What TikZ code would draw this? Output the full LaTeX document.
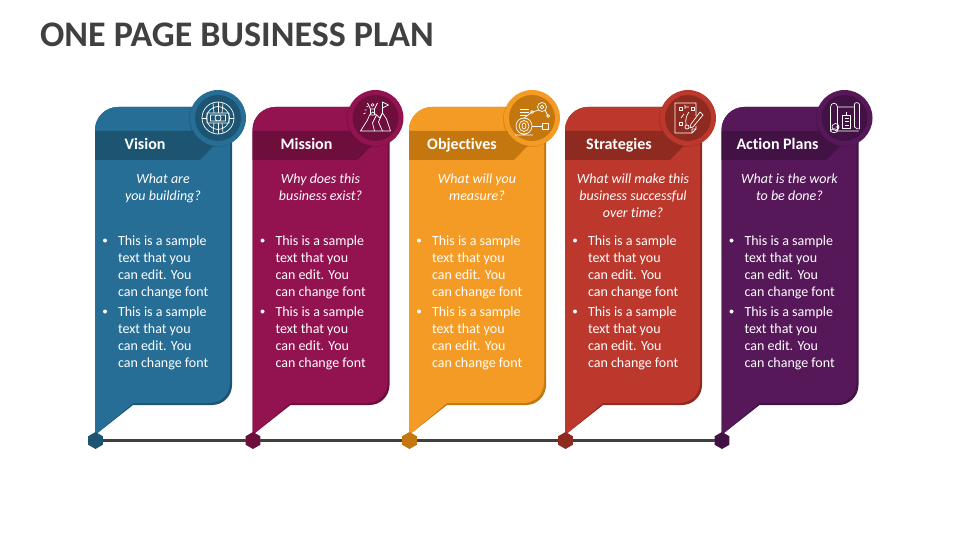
\documentclass[tikz,border=0pt]{standalone}
\usepackage{fontspec}
\setmainfont[Ligatures=NoCommon]{Carlito}
\usetikzlibrary{shapes.geometric}
\definecolor{titlegray}{HTML}{404040}
\definecolor{visionmain}{HTML}{276E96}
\definecolor{visiondark}{HTML}{1C5472}
\definecolor{missionmain}{HTML}{921350}
\definecolor{missiondark}{HTML}{6D0E3C}
\definecolor{objectmain}{HTML}{F49B25}
\definecolor{objectdark}{HTML}{C4770F}
\definecolor{stratmain}{HTML}{BC382C}
\definecolor{stratdark}{HTML}{8F2A20}
\definecolor{planmain}{HTML}{57185A}
\definecolor{plandark}{HTML}{421245}
\begin{document}
\begin{tikzpicture}[x=1pt,y=-1pt,inner sep=0pt,outer sep=0pt,
headtext/.style={text=white,anchor=base,font=\fontsize{16}{17}\selectfont\bfseries},
asktext/.style={text=white,align=center,anchor=north,font=\fontsize{14}{17}\selectfont\itshape},
bodytext/.style={text=white,align=left,anchor=north west,font=\fontsize{14}{17}\selectfont},
dotnode/.style={circle,fill=white,minimum size=4pt},
hexnode/.style={regular polygon,regular polygon sides=6,shape border rotate=30,minimum size=17pt},
icon/.style={draw=white,line width=0.7pt,line join=round},
iconvision/.pic={
\draw[icon] (0,0) circle (16) (0,0) circle (11.5);
\draw[icon] (-11,-5) rectangle (11,5) (0,0) circle (3) (-7.5,-3) rectangle (7.5,3);
\draw[icon] (0,-16) -- (0,-5) (0,5) -- (0,16) (-16,0) -- (-11,0) (11,0) -- (16,0);
\draw[icon] (-5,-15) -- (-4,-5) (5,-15) -- (4,-5) (-5,15) -- (-4,5) (5,15) -- (4,5);},
iconmission/.pic={
\draw[icon] (-15,13) -- (15,13) -- (11,1) -- (7,-5) -- (4,0) -- (1,-3) -- (-3,-6) -- (-6,-3) -- (-8,2) -- cycle;
\draw[icon] (-1,13) -- (-3,5) -- (1,-3) (7,13) -- (3,4) -- (7,-5);
\draw[icon] (-5,-9) rectangle (-1,-3) (-3,-13) circle (1.5) (-8,-15) -- (-5,-9) (2,-15) -- (-1,-9);
\draw[icon] (7,-5) -- (7,-16) -- (13,-13) -- (7,-10);
\draw[icon] (-11,-8) -- (-9,-8) (-12,-4) -- (-10,-5) (-9,-12) -- (-8,-11);},
iconobject/.pic={
\draw[icon] (-12,-9) -- (-3,-9) (-12,-6) -- (-3,-6) (-12,-3) -- (-5,-3);
\draw[icon] (10,-11) circle (4.5) (10,-11) circle (1.8) (0,-6) circle (1.5) (16,-2) circle (1.5);
\draw[icon] (-8,0) -- (0,-6) -- (7,-8) (13,-8) -- (16,-2);
\draw[icon] (-8,8) ellipse (8 and 8) (-8,8) ellipse (5 and 5.5) (-8,8) ellipse (2 and 3) (-17,17) -- (1,17);
\draw[icon] (0,8) -- (10,8) -- (10,11) -- (16,11) -- (16,5) -- (10,5) -- (10,8);},
iconstrat/.pic={
\draw[icon] (8,-2) -- (8,-15) -- (-13,-15) -- (-13,15) -- (4,15) -- (8,11) -- (8,8) (4,15) -- (4,11) -- (8,11);
\draw[icon] (-9,-11) rectangle (-6,-8) (3,-11) rectangle (6,-8) (-9,4) rectangle (-6,7);
\draw[icon] (-3,-11) -- (1,-11) (-3,-13) -- (-3,-9) (-1,9) circle (2);
\draw[icon] (-4,-4) -- (-7,0) (-2,7) .. controls (-3,0) and (-1,-3) .. (1,-6);
\draw[icon] (12,-6) -- (15,-3) -- (5,9) -- (2,10) -- (3,6) -- cycle;},
iconplan/.pic={
\draw[icon] (-14,-11) .. controls (-14,-16) and (-7,-16) .. (-7,-11) -- (-7,13) .. controls (-8,10) and (-13,10) .. (-14,13) -- cycle;
\draw[icon] (-14,13) .. controls (-13,15) and (-8,15) .. (-7,13) -- (14,13);
\draw[icon] (-7,-11) -- (10,-11) -- (10,-14) .. controls (10,-16) and (15,-16) .. (15,-13) -- (15,11) (10,-11) -- (10,9) .. controls (11,11) and (14,11) .. (15,11);
\draw[icon] (-2,-3) rectangle (6,10) (0,0) -- (4,0) (0,3.5) -- (4,3.5) (0,7) -- (4,7) (2,-6) -- (2,-3);
\draw[icon] (-9,9) circle (3.5) (-9,9) -- (-5.5,9);}]
\useasboundingbox (0,0) rectangle (960,540);
\draw (40,35) node[anchor=west,text=titlegray,font=\fontsize{36}{40}\selectfont\bfseries] (title) {ONE PAGE BUSINESS PLAN};
\foreach \n/\x/\colmain/\coldark/\headx/\head/\ask/\icn in {
1/95/visionmain/visiondark/50/Vision/{What are\\you building?}/iconvision,
2/252.5/missionmain/missiondark/54/Mission/{Why does this\\business exist?}/iconmission,
3/409/objectmain/objectdark/53/Objectives/{What will you\\measure?}/iconobject,
4/565/stratmain/stratdark/54/Strategies/{What will make this\\business successful\\over time?}/iconstrat,
5/721.5/planmain/plandark/56/Action Plans/{What is the work\\to be done?}/iconplan}
{
\begin{scope}[shift={(\x,0)}]
\fill[\coldark] (0,130) arc[start angle=180,end angle=270,radius=23] -- (137,107) -- (137,385) arc[start angle=0,end angle=90,radius=20] -- (38,405) -- (0,435) -- cycle;
\fill[\colmain] (0,130) arc[start angle=180,end angle=270,radius=23] -- (135,107) -- (135,383) arc[start angle=0,end angle=90,radius=20] -- (38,403) -- (0,435) -- cycle;
\fill[\coldark] (0,131) -- (133,131) -- (105,160) -- (0,160) -- cycle;
\draw (122,119) node[circle,fill=\coldark,fill opacity=.5,minimum size=56pt] (shade\n) {};
\draw (123,118) node[circle,fill=\colmain,minimum size=56pt] (ring\n) {};
\draw (123,118) node[circle,fill=\coldark,minimum size=46pt] (disc\n) {};
\pic at (123,118) {\icn};
\draw (\headx,150) node[headtext] (head\n) {\head};
\draw (68,174) node[asktext] (ask\n) {\ask};
\draw (10,240.5) node[dotnode] (dota\n) {};
\draw (10,311.5) node[dotnode] (dotb\n) {};
\draw (23,236) node[bodytext] (bodya\n) {This is a sample\\text that you\\can edit. You\\can change font};
\draw (23,307) node[bodytext] (bodyb\n) {This is a sample\\text that you\\can edit. You\\can change font};
\draw (0.5,440.5) node[hexnode,fill=\coldark] (hex\n) {};
\end{scope}
}
\draw[titlegray,line width=3pt] (hex1) -- (hex2);
\draw[titlegray,line width=3pt] (hex2) -- (hex3);
\draw[titlegray,line width=3pt] (hex3) -- (hex4);
\draw[titlegray,line width=3pt] (hex4) -- (hex5);
\end{tikzpicture}
\end{document}
